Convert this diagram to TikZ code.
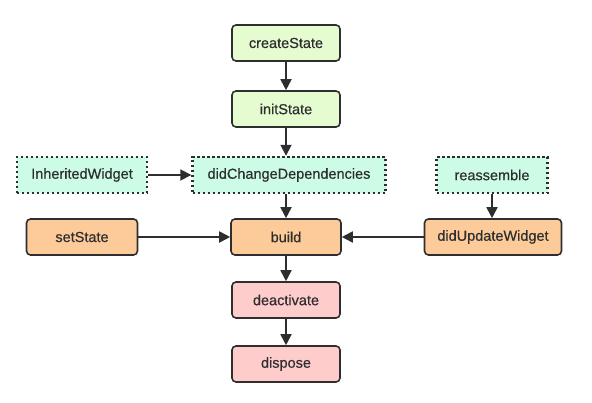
\documentclass[tikz,border=0pt]{standalone}
\usepackage{fontspec}
\setmainfont{Liberation Sans}
\newfontfamily\medfont[FakeBold=0.5]{Liberation Sans}
\usetikzlibrary{arrows.meta}
\definecolor{cgreen}{HTML}{E4FCD0}
\definecolor{cmint}{HTML}{CCFCE6}
\definecolor{corange}{HTML}{FDCB99}
\definecolor{cpink}{HTML}{FFCCCC}
\definecolor{cline}{HTML}{2E2E2E}
\begin{document}
\begin{tikzpicture}[x=1pt,y=-1pt,
  box/.style={draw=cline,line width=1.6pt,rounded corners=4pt,minimum height=36pt,inner sep=0pt,
    font=\medfont\fontsize{14.5pt}{16pt}\selectfont,text=cline},
  dbox/.style={draw=cline,line width=2.4pt,dash pattern=on 2.4pt off 2.6pt,minimum height=36pt,inner sep=0pt,
    font=\medfont\fontsize{14.5pt}{16pt}\selectfont,text=cline,fill=cmint},
  arr/.style={draw=cline,line width=1.8pt,-{Triangle[length=11pt,width=11pt]}}]
\useasboundingbox (0,0) rectangle (592,403);
\node[box,fill=cgreen,minimum width=108pt] (cs) at (286,43) {createState};
\node[box,fill=cgreen,minimum width=108pt] (is) at (286,109) {initState};
\node[dbox,minimum width=130pt] (iw) at (82,175) {InheritedWidget};
\node[dbox,minimum width=193pt] (dcd) at (289,175) {didChangeDependencies};
\node[dbox,minimum width=111pt] (ra) at (492,175) {reassemble};
\node[box,fill=corange,minimum width=111pt] (ss) at (82,237) {setState};
\node[box,fill=corange,minimum width=110pt] (bd) at (286,237) {build};
\node[box,fill=corange,minimum width=137pt] (duw) at (493,237) {didUpdateWidget};
\node[box,fill=cpink,minimum width=108pt] (de) at (286,300) {deactivate};
\node[box,fill=cpink,minimum width=108pt] (dp) at (286,364) {dispose};
\draw[arr] (cs) -- (is);
\draw[arr] (is.south) -- (is.south |- dcd.north);
\draw[arr] (iw) -- (dcd);
\draw[arr] (bd.north |- dcd.south) -- (bd.north);
\draw[arr] (ra.south) -- (ra.south |- duw.north);
\draw[arr] (ss) -- (bd);
\draw[arr] (duw) -- (bd);
\draw[arr] (bd) -- (de);
\draw[arr] (de) -- (dp);
\end{tikzpicture}
\end{document}
